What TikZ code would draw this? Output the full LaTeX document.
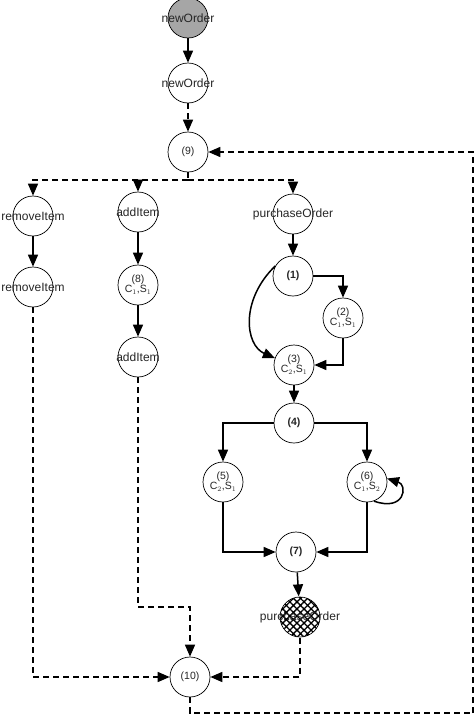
\documentclass[tikz,border=0pt]{standalone}
\usepackage{fontspec}
\setmainfont{Liberation Sans}
\usetikzlibrary{arrows.meta,patterns.meta}
\begin{document}
\begin{tikzpicture}[x=1pt,y=-1pt,
  st/.style={circle,draw,line width=0.7pt,minimum size=40pt,inner sep=0pt,fill=white},
  big/.style={font=\fontsize{12}{12}\selectfont,text=black!85},
  sm/.style={font=\fontsize{10.5}{10}\selectfont,align=center,text=black!85},
  tip/.style={-{Triangle[length=12pt,width=10pt]}},
  sol/.style={line width=1.5pt,tip},
  das/.style={line width=1.5pt,dash pattern=on 6pt off 4pt},
  dasa/.style={das,tip}]
\useasboundingbox (0,0) rectangle (474,715);
% nodes
\node[st,fill=black!35,label={[big]center:newOrder}] (s0) at (188,18) {};
\node[st,label={[big]center:newOrder}] (no) at (188,83) {};
\node[st] (n9) at (188,152) {};
\node[sm] (t9) at (n9) {(9)};
\node[st,label={[big]center:removeItem}] (rm1) at (33,216) {};
\node[st,label={[big]center:removeItem}] (rm2) at (33,287) {};
\node[st,label={[big]center:addItem}] (ad1) at (138,212) {};
\node[st] (n8) at (138,285) {};
\node[sm] (t8) at (n8) {(8)\\C$_{\scriptstyle 1}$,S$_{\scriptstyle 1}$};
\node[st,label={[big]center:addItem}] (ad2) at (138,357) {};
\node[st,label={[big]center:purchaseOrder}] (po) at (293,214) {};
\node[st] (n1) at (293,276) {};
\node[sm] (t1) at (n1) {\textbf{(1)}};
\node[st] (n2) at (343,318) {};
\node[sm] (t2) at (n2) {(2)\\C$_{\scriptstyle 1}$,S$_{\scriptstyle 1}$};
\node[st] (n3) at (294,365) {};
\node[sm] (t3) at (n3) {(3)\\C$_{\scriptstyle 2}$,S$_{\scriptstyle 1}$};
\node[st] (n4) at (294,423) {};
\node[sm] (t4) at (n4) {\textbf{(4)}};
\node[st] (n5) at (223,482) {};
\node[sm] (t5) at (n5) {(5)\\C$_{\scriptstyle 2}$,S$_{\scriptstyle 1}$};
\node[st] (n6) at (367,482) {};
\node[sm] (t6) at (n6) {(6)\\C$_{\scriptstyle 1}$,S$_{\scriptstyle 2}$};
\node[st] (n7) at (296,552) {};
\node[sm] (t7) at (n7) {\textbf{(7)}};
\node[st,pattern={Hatch[angle=45,distance=5pt,line width=1.3pt]},label={[big]center:purchaseOrder}] (pf) at (300,617) {};
\node[st] (n10) at (190,677) {};
\node[sm] (t10) at (n10) {(10)};
\coordinate (fork) at (188,180);
\coordinate (a2d) at (138,607);
\coordinate (b1) at (190,713);
\coordinate (b2) at (473,713);
% connectors
\draw[sol] (s0) -- (no);
\draw[dasa] (no) -- (n9);
\draw[das] (n9.south) -- (fork);
\draw[dasa] (fork) -| (rm1.north);
\draw[dasa] (fork) -| (ad1.north);
\draw[dasa] (fork) -| (po.north);
\draw[sol] (rm1) -- (rm2);
\draw[sol] (ad1) -- (n8);
\draw[sol] (n8) -- (ad2);
\draw[sol] (po) -- (n1);
\draw[sol] (n1.east) -| (n2.north);
\draw[sol] (n1.150) .. controls (240,300) and (245,345) .. (n3.160);
\draw[sol] (n2.south) |- (n3.east);
\draw[sol] (n3) -- (n4);
\draw[sol] (n4.west) -| (n5.north);
\draw[sol] (n4.east) -| (n6.north);
\draw[sol] (n5.south) |- (n7.west);
\draw[sol] (n6.south) |- (n7.east);
\draw[sol] (n6.-70) .. controls (405,512) and (408,485) .. (n6.10);
\draw[sol] (n7) -- (pf);
\draw[dasa] (rm2.south) |- (n10.west);
\draw[das] (ad2.south) -- (a2d);
\draw[dasa] (a2d) -| (n10.north);
\draw[dasa] (pf.south) |- (n10.east);
\draw[das] (n10.south) -- (b1) -- (b2);
\draw[dasa] (b2) |- (n9.east);
\end{tikzpicture}
\end{document}
